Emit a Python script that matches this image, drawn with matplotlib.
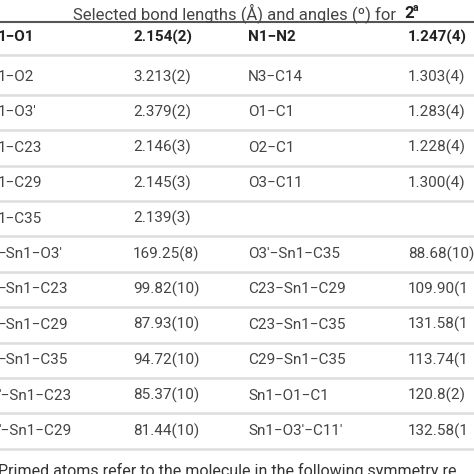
import matplotlib
matplotlib.use("Agg")
import matplotlib.pyplot as plt
from matplotlib.lines import Line2D

plt.rcParams['font.family'] = ['Roboto', 'DejaVu Sans']

title = "Selected bond lengths (Å) and angles (º) for "
col0 = ["1−O1", "1−O2", "1−O3'", "1−C23", "1−C29", "1−C35", "−Sn1−O3'", "−Sn1−C23",
        "−Sn1−C29", "−Sn1−C35", "'−Sn1−C23", "'−Sn1−C29"]
col1 = ["2.154(2)", "3.213(2)", "2.379(2)", "2.146(3)", "2.145(3)", "2.139(3)", "169.25(8)",
        "99.82(10)", "87.93(10)", "94.72(10)", "85.37(10)", "81.44(10)"]
col2 = ["N1−N2", "N3−C14", "O1−C1", "O2−C1", "O3−C11", "", "O3'−Sn1−C35", "C23−Sn1−C29",
        "C23−Sn1−C35", "C29−Sn1−C35", "Sn1−O1−C1", "Sn1−O3'−C11'"]
col3 = ["1.247(4)", "1.303(4)", "1.283(4)", "1.228(4)", "1.300(4)", "", "88.68(10)", "109.90(1",
        "131.58(1", "113.74(1", "120.8(2)", "132.58(1"]
footnote = "Primed atoms refer to the molecule in the following symmetry re"

W = H = 474
fig = plt.figure(figsize=(4.74, 4.74), dpi=100)
fig.patch.set_facecolor('white')

def fy(y):
    return 1 - y / H

def fx(x):
    return x / W

fig.text(fx(400), fy(13), title, ha='right', va='center', fontsize=12, color='#444444')
fig.text(fx(404), fy(13), "2", ha='left', va='center', fontsize=12, fontweight='bold', color='#222222')
fig.text(fx(413), fy(8), "a", ha='left', va='center', fontsize=7.5, fontweight='bold', color='#222222')

fig.add_artist(Line2D([0, 1], [fy(22), fy(22)], color='#555555', lw=1.5))

step = 35.4
row_y = [37] + [77 + i * step for i in range(11)]

for i in range(len(col0)):
    y = row_y[i]
    bold = 'bold' if i == 0 else 'normal'
    c = '#222222' if i == 0 else '#444444'
    fig.text(fx(-2), fy(y), col0[i], ha='left', va='center', fontsize=11, fontweight=bold, color=c)
    fig.text(fx(133), fy(y), col1[i], ha='left', va='center', fontsize=11, fontweight=bold, color=c)
    fig.text(fx(248), fy(y), col2[i], ha='left', va='center', fontsize=11, fontweight=bold, color=c)
    fig.text(fx(408), fy(y), col3[i], ha='left', va='center', fontsize=11, fontweight=bold, color=c)
    if i < len(col0) - 1:
        sep = (row_y[i] + row_y[i + 1]) / 2
        if i == 0:
            sep = 55
        fig.add_artist(Line2D([0, 1], [fy(sep), fy(sep)], color='#dddddd', lw=1.8))

fig.add_artist(Line2D([0, 1], [fy(449), fy(449)], color='#dddddd', lw=1.8))
fig.text(fx(-2), fy(471), footnote, ha='left', va='center', fontsize=11.5, color='#333333')

fig.savefig("out.png", dpi=100)
